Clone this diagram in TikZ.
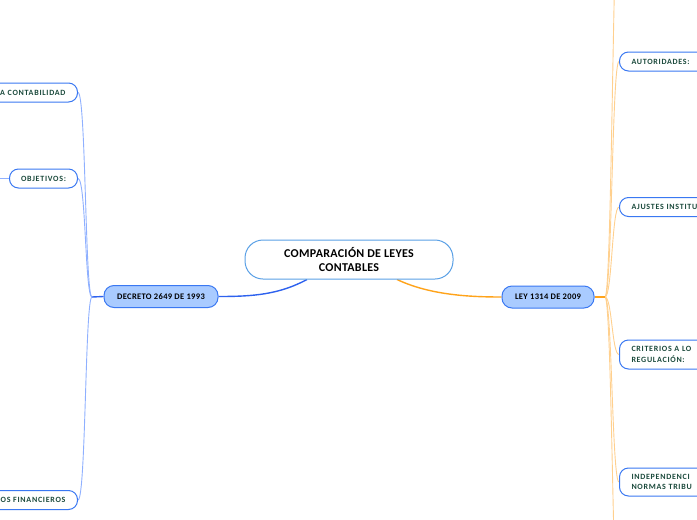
\documentclass[tikz,border=0pt]{standalone}
\usepackage{fontspec}
\setmainfont{Carlito}
\usetikzlibrary{calc}
\pgfdeclarelayer{bg}
\pgfsetlayers{bg,main}
\definecolor{kidborder}{HTML}{3A78F2}
\definecolor{rootborder}{HTML}{5AA0E6}
\definecolor{mainfill}{HTML}{A9CBFF}
\definecolor{kidtext}{HTML}{1B4A3C}
\definecolor{bluemain}{HTML}{2E62EE}
\definecolor{orangemain}{HTML}{FFA31A}
\definecolor{bluelight}{HTML}{8FB0FF}
\definecolor{orangelight}{HTML}{FFD08E}
\tikzset{
  rootbox/.style={draw=rootborder, line width=1pt, fill=white, rounded corners=18pt,
    minimum width=208pt, minimum height=39pt, inner sep=0pt, align=center,
    font=\fontsize{12}{14}\selectfont\bfseries\addfontfeatures{LetterSpace=2.5}, text=black},
  mainbox/.style={draw=kidborder, line width=1pt, fill=mainfill, rounded corners=10pt,
    minimum height=22pt, inner sep=0pt, align=center,
    font=\fontsize{8.5}{10}\selectfont\bfseries\addfontfeatures{LetterSpace=4}, text=black},
  kidbox/.style={draw=kidborder, line width=1pt, fill=white, rounded corners=9pt,
    minimum height=19pt, inner ysep=0pt, inner xsep=12pt,
    font=\fontsize{8}{10.5}\selectfont\bfseries\addfontfeatures{LetterSpace=9}, text=kidtext},
  kidR/.style={kidbox, anchor=west, text width=120pt, align=left},
  kidL/.style={kidbox, anchor=east, text width=110pt, align=right},
  bluebranch/.style={draw=bluemain, line width=1.4pt},
  orangebranch/.style={draw=orangemain, line width=1.4pt},
  bluetwig/.style={draw=bluelight, line width=0.9pt},
  orangetwig/.style={draw=orangelight, line width=0.9pt},
}
\begin{document}
\begin{tikzpicture}[x=1pt,y=-1pt]
\useasboundingbox (0,0) rectangle (697,520);
\clip (0,0) rectangle (697,520);

% forks and off-screen ends
\coordinate (lf) at (92,297);
\coordinate (rf) at (605,297);
\coordinate (rtop) at (619,-110);
\coordinate (rbot) at (619,640);
\coordinate (objc) at (-40,178.5);

% child nodes
\node[kidL] (c1) at (78,92.5) {A CONTABILIDAD};
\node[kidbox, anchor=east, minimum width=68pt, align=center, inner xsep=0pt] (obj) at (78,178.5) {OBJETIVOS:};
\node[kidL] (c3) at (78,500) {OS FINANCIEROS};

\node[kidR] (r1) at (619,61.5) {AUTORIDADES:};
\node[kidR] (r2) at (619,207) {AJUSTES INSTITU};
\node[kidR, minimum height=29pt] (r3) at (619,354.5) {CRITERIOS A LO\\REGULACIÓN:};
\node[kidR, minimum height=28pt] (r4) at (619,482) {INDEPENDENCI\\NORMAS TRIBU};

% main nodes
\node[rootbox] (root) at (349,259.5) {COMPARACIÓN DE LEYES\\CONTABLES};
\node[mainbox, minimum width=114pt] (dec) at (161,296.5) {DECRETO 2649 DE 1993};
\node[mainbox, minimum width=92pt] (ley) at (548,297) {LEY 1314 DE 2009};

\begin{pgfonlayer}{bg}
\foreach \k in {c1,obj,c3}{
  \draw[bluetwig] (lf) .. controls ($(lf)+(-7,0)$) and ($(\k.east)+(8,0)$) .. (\k.east);
}
\draw[bluetwig] (obj.west) -- (objc);
\foreach \k in {r1,r2,r3,r4}{
  \draw[orangetwig] (rf) .. controls ($(rf)+(7,0)$) and ($(\k.west)+(-7,0)$) .. (\k.west);
}
\draw[orangetwig] (rf) .. controls ($(rf)+(7,0)$) and ($(rtop)+(-6,0)$) .. (rtop);
\draw[orangetwig] (rf) .. controls ($(rf)+(7,0)$) and ($(rbot)+(-6,0)$) .. (rbot);
\draw[bluebranch] ($(root.south)+(-42,0)$) .. controls ($(root.south)+(-70,15)$) and ($(dec.east)+(35,0)$) .. (dec.east);
\draw[orangebranch] ($(root.south)+(48,0)$) .. controls ($(root.south)+(80,15)$) and ($(ley.west)+(-35,0)$) .. (ley.west);
\draw[bluebranch] (dec.west) -- (lf);
\draw[orangebranch] (ley.east) -- (rf);
\end{pgfonlayer}
\end{tikzpicture}
\end{document}
